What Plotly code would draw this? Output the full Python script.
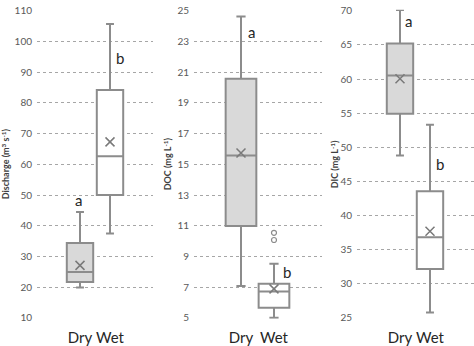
import plotly.graph_objects as go

categories = ["Dry", "Wet"]

# Discharge (m3 s-1)
q_lower = [19.9, 37.5]
q_q1 = [21.7, 50.0]
q_median = [24.9, 62.6]
q_q3 = [34.4, 84.2]
q_upper = [44.5, 105.7]
q_mean = [27.1, 67.3]

# DOC (mg L-1)
doc_lower = [7.08, 5.0]
doc_q1 = [10.98, 5.66]
doc_median = [15.57, 6.72]
doc_q3 = [20.58, 7.22]
doc_upper = [24.63, 8.53]
doc_mean = [15.74, 6.89]
doc_outliers_wet = [10.07, 10.54]

# DIC (mg L-1)
dic_lower = [48.8, 25.8]
dic_q1 = [54.9, 32.15]
dic_median = [60.5, 36.8]
dic_q3 = [65.2, 43.55]
dic_upper = [70.1, 53.3]
dic_mean = [60.05, 37.7]

# y tick labels
q_ticks = [10, 20, 30, 40, 50, 60, 70, 80, 90, 100, 110]
doc_ticks = [5, 7, 9, 11, 13, 15, 17, 19, 21, 23, 25]
dic_ticks = [25, 30, 35, 40, 45, 50, 55, 60, 65, 70]

letters = ["a", "b"]
q_letter_y = [48.4, 94.6]
doc_letter_y = [23.6, 8.0]
dic_letter_y = [68.5, 47.6]

fills = ["#d9d9d9", "#ffffff"]
LINE = "#8c8c8c"
FONT = "Lato"

W, H = 474, 346
fig = go.Figure()

panels = [
    dict(lower=q_lower, q1=q_q1, med=q_median, q3=q_q3, up=q_upper, mean=q_mean,
         xa="x", ya="y", bw=0.88, letter_y=q_letter_y, lx=[-0.05, 0.33]),
    dict(lower=doc_lower, q1=doc_q1, med=doc_median, q3=doc_q3, up=doc_upper, mean=doc_mean,
         xa="x2", ya="y2", bw=0.93, letter_y=doc_letter_y, lx=[0.33, 0.4]),
    dict(lower=dic_lower, q1=dic_q1, med=dic_median, q3=dic_q3, up=dic_upper, mean=dic_mean,
         xa="x3", ya="y3", bw=0.88, letter_y=dic_letter_y, lx=[0.3, 0.33]),
]

for p in panels:
    for i, c in enumerate(categories):
        fig.add_trace(go.Box(
            x=[c], q1=[p["q1"][i]], median=[p["med"][i]], q3=[p["q3"][i]],
            lowerfence=[p["lower"][i]], upperfence=[p["up"][i]],
            fillcolor=fills[i], line=dict(color=LINE, width=2),
            width=p["bw"], whiskerwidth=0.3, boxpoints=False,
            xaxis=p["xa"], yaxis=p["ya"], showlegend=False, hoverinfo="skip"))
    fig.add_trace(go.Scatter(
        x=categories, y=p["mean"], mode="markers",
        marker=dict(symbol="x-thin", size=9, color="#7a7a7a", line=dict(color="#7a7a7a", width=1.5)),
        xaxis=p["xa"], yaxis=p["ya"], showlegend=False, hoverinfo="skip"))
    for i, c in enumerate(categories):
        fig.add_annotation(x=i + p["lx"][i], y=p["letter_y"][i], xref=p["xa"], yref=p["ya"],
                           text=letters[i], showarrow=False,
                           font=dict(family=FONT, size=15, color="#262626"))

fig.add_trace(go.Scatter(
    x=["Wet"] * len(doc_outliers_wet), y=doc_outliers_wet, mode="markers",
    marker=dict(symbol="circle-open", size=5, color="#8c8c8c", line=dict(color="#8c8c8c", width=1.2)),
    xaxis="x2", yaxis="y2", showlegend=False, hoverinfo="skip"))

ydom = [(H - 325) / H, (H - 4) / H]
xdoms = [[37 / W, 153 / W], [194 / W, 322 / W], [357 / W, 474 / W]]
xranges = [[-1.433, 2.433], [-1.424, 2.455], [-1.433, 2.467]]
yranges = [[10, 110], [5, 25], [25, 70]]
yticks = [q_ticks, doc_ticks, dic_ticks]

ax_common = dict(showline=False, zeroline=False)
for k in range(3):
    sfx = "" if k == 0 else str(k + 1)
    lo, hi = yranges[k]
    eps = (hi - lo) * 0.003
    fig.update_layout(**{
        "xaxis" + sfx: dict(domain=xdoms[k], range=xranges[k], type="category",
                            categoryorder="array", categoryarray=categories,
                            showgrid=False, ticks="", anchor="y" + sfx, ticklabelstandoff=8,
                            tickfont=dict(family=FONT, size=15, color="#262626"),
                            **ax_common),
        "yaxis" + sfx: dict(domain=ydom, range=[lo - eps, hi + eps], tickmode="array",
                            tickvals=yticks[k], ticktext=[str(v) for v in yticks[k]],
                            showgrid=True, gridcolor="#a6a6a6", gridwidth=1, griddash="3px,3px",
                            anchor="x" + sfx, ticks="", ticklabelstandoff=4,
                            ticklabeloverflow="allow",
                            tickfont=dict(family=FONT, size=10, color="#595959"),
                            **ax_common),
    })

titles = ["<b>Discharge (m<sup>3</sup> s<sup>-1</sup>)</b>", "<b>DOC (mg L<sup>-1</sup>)</b>",
          "<b>DIC (mg L<sup>-1</sup>)</b>"]
title_x = [6, 168, 335]
for t, xx in zip(titles, title_x):
    fig.add_annotation(x=xx / W, y=sum(ydom) / 2, xref="paper", yref="paper", text=t,
                       textangle=-90, showarrow=False, xanchor="center", yanchor="middle",
                       font=dict(family=FONT, size=9, color="#404040"))

fig.update_layout(width=W, height=H, margin=dict(l=0, r=0, t=0, b=0),
                  plot_bgcolor="white", paper_bgcolor="white", boxmode="overlay")

fig.write_html("out.html")
